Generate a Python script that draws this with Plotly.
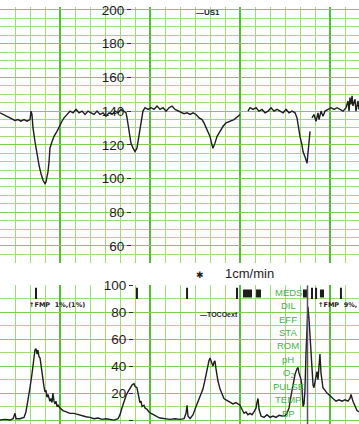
import plotly.graph_objects as go

# ---------------- data (time in seconds, 1 cm/min paper) ----------------
fhr_time = [0, 2, 4, 6, 8, 10, 12, 14, 16, 18, 20, 20.7, 21.3, 22, 23.3, 24.7, 26, 27.3, 28.7, 30,
            30.7, 31.3, 32, 32.7, 33.3, 34.7, 36, 38, 40, 41.3, 42.7, 44.7, 46.7, 48.7, 50.7, 52.7,
            54.7, 56.7, 58.7, 60.7, 62.7, 64.7, 66.7, 68.7, 70.7, 72.7, 74.7, 76.7, 78.7, 80.7, 82.7,
            84, 84.7, 86, 87.3, 88.7, 90, 91.3, 92.7, 94, 95.3, 96.7, 98.7, 100.7, 102.7, 104.7,
            106.7, 108.7, 110.7, 112.7, 114.7, 116.7, 118.7, 120.7, 122.7, 124.7, 126.7, 128.7,
            130.7, 132.7, 134.7, 136, 138, 140, 141.3, 142, 143.3, 144.7, 146.7, 148.7, 150.7,
            153.3, 156, 158.7, 160, None,
            165.3, 166.7, 168.7, 170.7, 172.7, 174.7, 176.7, 178.7, 180.7, 182.7, 184.7, 186.7,
            188.7, 190.7, 192.7, 194.7, 196.7, 198, 198.7, 200, 201.3, 202, 203.3, 204, 204.7,
            205.3, 206, 206.7, None,
            208, 209.3, 210.7, 212, 212.7, 214, 215.3, 216.7, 218.7, 220.7, 222.7, 224.7, 226.7,
            228.7, 230.7, 232, 232.7, 233.3, 234, 234.7, 235.3, 236.7, 237.3, 238.7, 239.3]
fhr_bpm = [139, 138, 137, 136, 135, 134.5, 135, 134, 135, 134, 135, 140, 138, 130, 122, 114, 108,
           103, 99, 97, 98, 101, 104, 110, 118, 122, 125, 128, 132, 134, 136, 138, 140, 139, 141,
           139, 140, 138, 140, 139, 138, 140, 138, 139, 137, 139, 138, 140, 139, 141, 140, 139,
           136, 128, 121, 118, 116, 118, 126, 134, 140, 142, 141, 142, 141, 143, 141, 142, 140,
           142, 143, 141, 140, 139, 138.5, 139, 138, 139, 138, 136, 135, 133, 129, 125, 120, 118,
           121, 125, 128, 131, 133, 134, 135, 137, 138, None,
           140, 142, 141, 142, 140, 141, 139, 140, 142, 140, 141, 140, 139, 141, 139, 140, 139,
           136, 131, 125, 120, 116, 113, 111, 109, 115, 124, 128, None,
           136, 138, 134, 139, 135, 140, 137, 140, 141, 142, 141, 142, 141, 140, 142, 146, 140,
           148, 144, 149, 143, 147, 140, 146, 141]

toco_time = [0, 3.3, 6.7, 8.7, 10, 10.7, 13.3, 16, 17.3, 18.7, 20, 21.3, 22.7, 23.3, 24, 24.7,
             25.3, 26, 26.7, 27.3, 28, 28.7, 29.3, 30, 30.7, 31.3, 32, 33.3, 34, 34.7, 35.3, 36,
             36.7, 37.3, 38, 38.7, 40, 42, 44, 46.7, 49.3, 52, 54.7, 57.3, 60, 62.7, 65.3, 68,
             70.7, 73.3, 76, 78.7, 80, 81.3, 82.7, 84, 85.3, 86.7, 88, 89.3, 90, 91.3, 92, 93.3,
             94, 94.7, 96, 96.7, 98, 99.3, 100.7, 102.7, 104.7, 106.7, 110, 113.3, 116.7, 120,
             122.7, 124, 124.7, 125.3, 126.7, 128.7, 130.7, 132.7, 134, 135.3, 136.7, 138, 139.3,
             140, 140.7, 142, 142.7, 143.3, 144, 145.3, 146.7, 148, 149.3, 150.7, 152, 153.3,
             155.3, 157.3, 158.7, 160, 161.3, 162.7, 164, 165.3, 166.7, 168, 169.3, 170.7, 171.3,
             172, 172.7, 174, 176, 178, 180, 182, 184, 186, 188, 190, 191.3, 192.7, 194, 195.3,
             196.7, 198, 198.7, 199.3, 200, 200.7, 201.3, 202, 202.7, 203.3, 204, 204.7, 205.3,
             206, 206.7, 207.3, 208, 208.7, 209.3, 210, 210.7, 211.3, 212, 212.7, 213.3, 214,
             215.3, 216.7, 218, 220, 222, 224, 226, 228, 230, 232, 233.3, 234, 235.3, 236.7,
             238, 239.3]
toco_val = [0, 0.5, 0, 1, 5, 1, 1, 2, 6, 14, 24, 34, 46, 52, 53, 49, 52, 47, 46, 40, 34, 29, 25,
            21, 22, 17, 19, 14, 16, 13, 20, 14, 12, 14, 10, 11, 9, 7, 6, 5, 5, 4, 3, 2.5, 2, 1,
            1.5, 0.5, 1, 0.5, 0, 1, 4, 9, 14, 18, 21, 24, 26, 27, 25, 24, 19, 13, 14, 10, 11, 9,
            8, 6, 5, 3.5, 2.5, 1.5, 1, 0.5, 1, 0.5, 1, 5, 11, 3, 1, 4, 10, 16, 20, 23, 30, 38,
            44, 46, 44, 40, 43, 44, 38, 29, 23, 19, 16, 15, 14, 13, 12, 13, 12, 11, 8, 5, 6, 4,
            5, 4, 6, 9, 13, 16, 8, 3, 2, 4, 2, 3, 2, 3.5, 3, 3, 5, 9, 18, 26, 34, 38, 39, 35,
            33, 30, 25, 10, 12, 22, 50, 76, 84, 75, 60, 48, 39, 26, 24, 28, 32, 36, 30, 40, 49,
            35, 24, 22, 20, 18, 16, 14, 15, 14, 15, 14, 16, 19, 14, 10, 7, 6, 5]

fhr_ticks = [60, 80, 100, 120, 140, 160, 180, 200]
toco_ticks = [0, 20, 40, 60, 80, 100]

status_labels = ["MEDS", "DIL", "EFF", "STA", "ROM", "pH", "O<sub>2</sub>", "PULSE", "TEMP", "BP"]
status_rows = [95, 85, 75, 65, 55, 45, 35, 25, 15, 5]

tick_events = [24, 91.3, 124.7, 158, 208, 210.7, 227.3]
block_events = [(162, 168), (170.7, 174), (202, 205.3), (213.3, 216)]
event_line_time = 205

# ---------------- styling ----------------
LIGHT = "#9fdc72"
DARK = "#57bd38"
INK = "#1e1e1e"
GREEN_TXT = "#3fb54a"
FONT = "Liberation Sans"
XMAX = 239.33

fig = go.Figure()
fig.add_trace(go.Scatter(x=fhr_time, y=fhr_bpm, mode="lines", xaxis="x", yaxis="y",
                         line=dict(color=INK, width=1.4), connectgaps=False, showlegend=False))
fig.add_trace(go.Scatter(x=toco_time, y=toco_val, mode="lines", xaxis="x2", yaxis="y2",
                         line=dict(color=INK, width=1.4), showlegend=False))

# event marks along the top of the toco strip
fig.add_trace(go.Scatter(x=tick_events, y=[94] * len(tick_events), mode="markers",
                         xaxis="x2", yaxis="y2",
                         marker=dict(symbol="line-ns", size=8, line=dict(color=INK, width=2)),
                         showlegend=False))
bx, by = [], []
for a, b in block_events:
    bx += [a, b, None]
    by += [94, 94, None]
fig.add_trace(go.Scatter(x=bx, y=by, mode="lines", xaxis="x2", yaxis="y2",
                         line=dict(color=INK, width=8), showlegend=False))

xax = dict(range=[0, XMAX], showticklabels=False, ticks="", zeroline=False,
           showgrid=True, gridcolor=DARK, gridwidth=1.6, tick0=40, dtick=60,
           minor=dict(tick0=0, dtick=10, showgrid=True, gridcolor=LIGHT, gridwidth=1))

fig.update_layout(
    width=359, height=424, margin=dict(l=0, r=0, t=0, b=0),
    paper_bgcolor="white", plot_bgcolor="white",
    font=dict(family=FONT, color=INK),
    xaxis=dict(domain=[0, 1], anchor="y", **xax),
    xaxis2=dict(domain=[0, 1], anchor="y2", **xax),
    yaxis=dict(domain=[1 - 260 / 424, 1], range=[50.08, 201.75], anchor="free",
               position=131 / 359, tickvals=fhr_ticks, ticks="outside", ticklen=4,
               tickcolor="#333", tickfont=dict(size=13.5, color=INK, family=FONT),
               showline=False, zeroline=False, showgrid=True, gridcolor="#7fcf55",
               gridwidth=1.2,
               minor=dict(tick0=0, dtick=5, showgrid=True, gridcolor=LIGHT, gridwidth=1)),
    yaxis2=dict(domain=[0, 1 - 283 / 424], range=[-2.92, 100], anchor="free",
                position=133 / 359, tickvals=toco_ticks, ticks="outside", ticklen=4,
                tickcolor="#333", tickfont=dict(size=13.5, color=INK, family=FONT),
                showline=False, zeroline=False, showgrid=True, gridcolor="#7fcf55",
                gridwidth=1.2,
                minor=dict(tick0=0, dtick=10, showgrid=True, gridcolor=LIGHT, gridwidth=1)),
)

# event marker line through the toco strip
fig.add_shape(type="line", xref="x2", yref="y2", x0=event_line_time, x1=event_line_time,
              y0=-2.92, y1=100, line=dict(color="#555", width=1.5))

ann = []
for lab, row in zip(status_labels, status_rows):
    ann.append(dict(x=192, y=row, xref="x2", yref="y2", text=lab, showarrow=False,
                    font=dict(size=9.5, color=GREEN_TXT, family=FONT)))
ann += [
    dict(x=129, y=198.5, xref="x", yref="y", text="<b>—US1</b>", showarrow=False,
         xanchor="left", font=dict(size=8, color=INK)),
    dict(x=132, y=78, xref="x2", yref="y2", text="<b>—TOCOext</b>", showarrow=False,
         xanchor="left", font=dict(size=7, color=INK)),
    dict(x=18, y=85.5, xref="x2", yref="y2", text="<b>↑FMP  1%,(1%)</b>", showarrow=False,
         xanchor="left", font=dict(size=6.5, color=INK, family="DejaVu Sans")),
    dict(x=1, y=85.5, xref="paper", yref="y2", text="<b>↑FMP  9%,</b>",
         showarrow=False, xanchor="right", font=dict(size=6.5, color=INK, family="DejaVu Sans")),
    dict(x=276 / 359, y=1 - 271 / 424, xref="paper", yref="paper", text="1cm/min",
         showarrow=False, font=dict(size=13, color=INK)),
    dict(x=200 / 359, y=1 - 273 / 424, xref="paper", yref="paper", text="✱",
         showarrow=False, font=dict(size=9, color=INK, family="DejaVu Sans")),
]
fig.update_layout(annotations=ann)

fig.write_html("out.html")
